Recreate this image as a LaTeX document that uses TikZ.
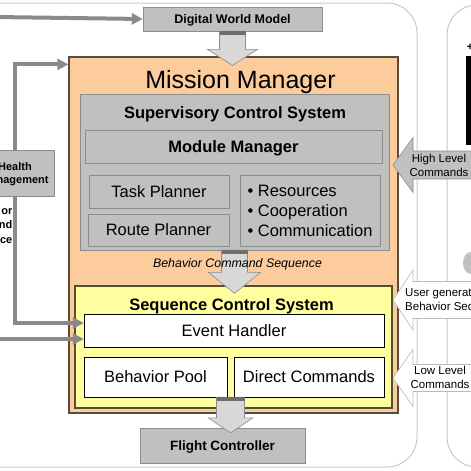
\documentclass[tikz,border=0pt]{standalone}
\usepackage{fontspec}
\setmainfont{Liberation Sans}
\usetikzlibrary{arrows.meta, calc}
\definecolor{GF}{RGB}{192,192,192}
\definecolor{GB}{RGB}{140,140,140}
\definecolor{MF}{RGB}{252,204,156}
\definecolor{MB}{RGB}{90,75,60}
\definecolor{YF}{RGB}{255,255,160}
\definecolor{YB}{RGB}{80,80,50}
\definecolor{LA}{RGB}{216,216,216}
\definecolor{FL}{RGB}{138,138,138}
\definecolor{FR}{RGB}{200,200,200}
\definecolor{DB}{RGB}{110,110,110}

% downward block arrow: start, tip, shaft half, head half, head length
\newcommand{\blockdown}[5]{%
  \draw[bigarrow] let \p1=(#1), \p2=(#2) in
    (\x1-#3pt,\y1) -- (\x1-#3pt,\y2+#5pt) -- (\x1-#4pt,\y2+#5pt) -- (\x1,\y2)
    -- (\x1+#4pt,\y2+#5pt) -- (\x1+#3pt,\y2+#5pt) -- (\x1+#3pt,\y1) -- cycle;
  \fill[DB] let \p1=(#1) in (\x1-#3pt,\y1) rectangle (\x1+#3pt,\y1-4pt);
}
% leftward block arrow: tip, shaft half, head half, head length, style
\newcommand{\blockleft}[5]{%
  \draw[#5] let \p1=(#1) in
    (\x1,\y1) -- (\x1+#4pt,\y1+#3pt) -- (\x1+#4pt,\y1+#2pt) -- (490pt,\y1+#2pt)
    -- (490pt,\y1-#2pt) -- (\x1+#4pt,\y1-#2pt) -- (\x1+#4pt,\y1-#3pt) -- cycle;
}

\begin{document}
\begin{tikzpicture}[x=1pt, y=1pt,
  gbox/.style={draw=GB, fill=GF, inner sep=0pt, text depth=0pt},
  wbox/.style={draw=black, fill=white, inner sep=0pt, text depth=0pt},
  sz/.style 2 args={minimum width=#1pt, minimum height=#2pt},
  txtL/.style={font=\fontsize{16.5}{20}\selectfont},
  txtB/.style={font=\fontsize{16.5}{20}\selectfont\bfseries},
  txtS/.style={font=\fontsize{12.5}{15}\selectfont\bfseries},
  lbl/.style={font=\fontsize{11.5}{14.5}\selectfont, align=center, inner sep=0pt},
  title/.style={anchor=base, inner sep=0pt},
  frame/.style={draw=FR, line width=1pt, rounded corners=30pt},
  bigarrow/.style={draw=GB, fill=LA, line width=0.6pt},
  feed/.style={draw=FL, line width=4pt, -{Triangle[length=11pt,width=11pt]}}
]
\useasboundingbox (0,0) rectangle (471,-471);
\clip (0,0) rectangle (471,-471);

% Frames
\draw[frame] (-60,-3) rectangle (417,-467);
\draw[frame] (447,-5) rectangle (560,-467);
\node[font=\fontsize{11}{13}\selectfont\bfseries, inner sep=0pt] (plus) at (470,-47) {+};
\fill[black] (466,-56) rectangle (480,-145);
\fill[GF] (471,-263) ellipse (8pt and 11pt);

% Mission manager
\node[draw=MB, fill=MF, sz={329}{356}, line width=1.2pt] (mm) at (233.5,-235) {};
\node[title, font=\fontsize{25}{30}\selectfont] (mmT) at (240.5,-88) {Mission Manager};

% Supervisory control system
\node[gbox, sz={309}{156}] (scs) at (234.5,-172) {};
\node[title, txtB] (scsT) at (235,-118) {Supervisory Control System};
\node[gbox, sz={297}{33}, txtB] (modm) at (233.5,-146.5) {Module Manager};
\node[gbox, sz={140}{33}, txtL] (task) at (159,-191.5) {Task Planner};
\node[gbox, sz={141}{32}, txtL] (route) at (158.5,-230) {Route Planner};
\node[gbox, sz={140}{71}, txtL, align=left] (res) at (310,-210.5)
  {• Resources\\• Cooperation\\• Communication};

% Sequence control system
\node[draw=YB, fill=YF, sz={317}{122}, line width=1.2pt] (seq) at (233.5,-347) {};
\node[title, txtB] (seqT) at (231.5,-310) {Sequence Control System};
\node[wbox, sz={300}{33}, txtL] (event) at (234,-330.5) {Event Handler};
\node[wbox, sz={143}{40}, txtL] (bpool) at (155.5,-377) {Behavior Pool};
\node[wbox, sz={150}{40}, txtL] (direct) at (309,-377) {Direct Commands};

% Outer blocks
\node[gbox, sz={179}{24}, txtS] (dwm) at (232.5,-19) {Digital World Model};
\node[gbox, sz={165}{35}, font=\fontsize{13.5}{16}\selectfont\bfseries] (fc) at (222.5,-445.5)
  {Flight Controller};
\node[gbox, sz={78}{46}, align=center, font=\fontsize{11}{13.5}\selectfont\bfseries] (health)
  at (15,-173) {Health\\Management};
\foreach \t/\y in {or/214, nd/228, ce/243}
  \node[font=\fontsize{11}{13.5}\selectfont\bfseries, anchor=base east, inner sep=0pt]
    (frag\y) at (12.5,-\y) {\t};

% Block arrows
\coordinate (poolgap) at ($(bpool.south east)!.5!(direct.south west)$);
\blockdown{dwm.south}{[yshift=-9pt]mm.north}{13}{25}{16}
\blockdown{scs.south}{[yshift=-8pt]seq.north}{13}{26}{21}
\blockdown{poolgap}{[yshift=-5pt]fc.north}{14}{22.5}{15}
\node[title, font=\fontsize{12.4}{15}\selectfont\itshape] (bcs) at (237.5,-267)
  {Behavior Command Sequence};

% Feedback lines
\coordinate (edgeA) at (-5,-17);
\coordinate (edgeB) at (-5,-339);
\draw[feed] (edgeA) -- (dwm.west);
\draw[feed] (health.north) |- ([yshift=-8pt]mm.north west);
\draw[feed] (health.south) |- ([yshift=7.5pt]event.west);
\draw[feed] (edgeB) -- ([yshift=-8.5pt]event.west);

% Commands from the right
\coordinate (hlc) at (393,-165);
\coordinate (ubs) at (393,-300);
\coordinate (llc) at (393,-378);
\blockleft{hlc}{14}{27.5}{20}{draw=GB, fill=GF, line width=0.6pt}
\blockleft{ubs}{18.5}{30}{20}{draw=gray!55, fill=white, line width=0.6pt}
\blockleft{llc}{13.5}{28.5}{20}{draw=gray!55, fill=white, line width=0.6pt}
\node[lbl] (hlcT) at (439,-165.4) {High Level\\Commands};
\node[lbl, align=left, anchor=west] (ubsT) at (405,-300.4) {User generated\\Behavior Sequence};
\node[lbl] (llcT) at (440,-377.4) {Low Level\\Commands};
\end{tikzpicture}
\end{document}
